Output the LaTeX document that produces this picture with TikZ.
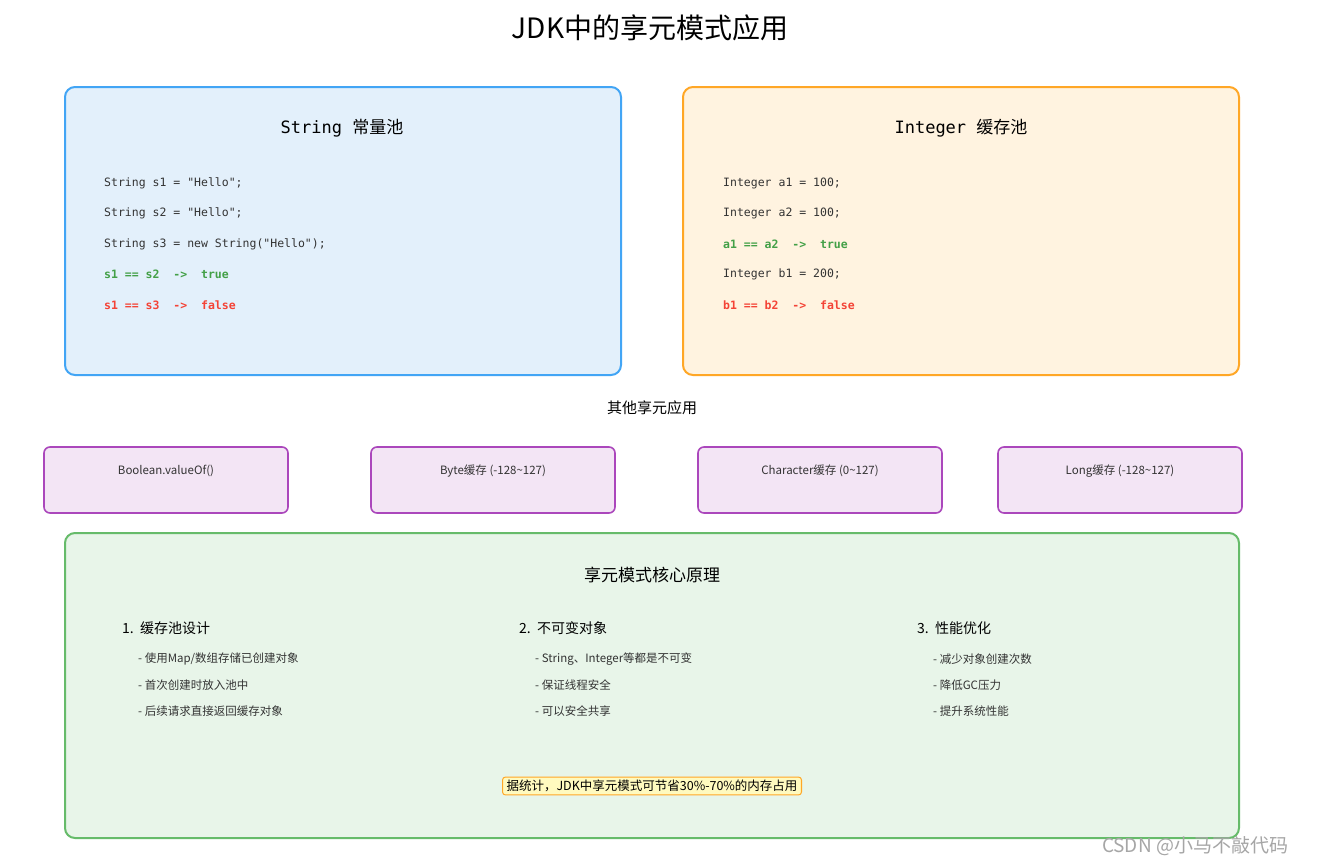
\documentclass[tikz,border=0pt]{standalone}
\usepackage{fontspec}
\setmainfont{Noto Sans CJK SC}
\newfontfamily\codef{DejaVu Sans Mono}
\definecolor{bluef}{HTML}{E3F0FB}\definecolor{blued}{HTML}{42A5F5}
\definecolor{orf}{HTML}{FFF3E0}\definecolor{ord}{HTML}{FFA726}
\definecolor{puf}{HTML}{F3E5F5}\definecolor{pud}{HTML}{AB47BC}
\definecolor{grf}{HTML}{E8F5E9}\definecolor{grd}{HTML}{66BB6A}
\definecolor{okc}{HTML}{43A047}\definecolor{badc}{HTML}{F44336}
\definecolor{txt}{HTML}{333333}
\begin{document}
\begin{tikzpicture}[x=1pt,y=-1pt,
  panel/.style={rounded corners=10pt,line width=2pt},
  code/.style={anchor=west,font=\codef\fontsize{11.5}{13}\selectfont,text=txt,inner sep=0},
  small/.style={rounded corners=6pt,line width=1.6pt,draw=pud,fill=puf},
  st/.style={font=\fontsize{11.5}{13}\selectfont,text=txt},
  bl/.style={anchor=west,font=\fontsize{11.5}{13}\selectfont,text=txt,inner sep=0},
  hd/.style={anchor=west,font=\fontsize{14}{16}\selectfont,text=black,inner sep=0}]
\useasboundingbox (0,0) rectangle (1324,867);
\fill[white] (0,0) rectangle (1324,867);
\node (title) at (650,28) {\fontsize{28}{32}\selectfont JDK中的享元模式应用};
% String pool
\draw[panel,draw=blued,fill=bluef] (65,87) rectangle (621,375);
\node (sh) at (342,128) {\fontsize{17}{20}\selectfont\codef String \rmfamily 常量池};
\node[code] (s1) at (104,183) {String s1 = "Hello";};
\node[code] (s2) at (104,213) {String s2 = "Hello";};
\node[code] (s3) at (104,244) {String s3 = new String("Hello");};
\node[code,text=okc,font=\codef\bfseries\fontsize{11.5}{13}\selectfont] (s4) at (104,274) {s1 == s2\ \ ->\ \ true};
\node[code,text=badc,font=\codef\bfseries\fontsize{11.5}{13}\selectfont] (s5) at (104,305) {s1 == s3\ \ ->\ \ false};
% Integer cache
\draw[panel,draw=ord,fill=orf] (683,87) rectangle (1239,375);
\node (ih) at (961,128) {\fontsize{17}{20}\selectfont\codef Integer \rmfamily 缓存池};
\node[code] (i1) at (723,183) {Integer a1 = 100;};
\node[code] (i2) at (723,213) {Integer a2 = 100;};
\node[code,text=okc,font=\codef\bfseries\fontsize{11.5}{13}\selectfont] (i3) at (723,244) {a1 == a2\ \ ->\ \ true};
\node[code] (i4) at (723,274) {Integer b1 = 200;};
\node[code,text=badc,font=\codef\bfseries\fontsize{11.5}{13}\selectfont] (i5) at (723,305) {b1 == b2\ \ ->\ \ false};
% others
\node (oh) at (652,408) {\fontsize{15}{17}\selectfont 其他享元应用};
\draw[small] (44,447) rectangle (288,513); \node[st] (o1) at (166,471) {Boolean.valueOf()};
\draw[small] (371,447) rectangle (615,513); \node[st] (o2) at (493,471) {Byte缓存 (-128\textasciitilde127)};
\draw[small] (698,447) rectangle (942,513); \node[st] (o3) at (820,471) {Character缓存 (0\textasciitilde127)};
\draw[small] (998,447) rectangle (1242,513); \node[st] (o4) at (1120,471) {Long缓存 (-128\textasciitilde127)};
% principles
\draw[panel,draw=grd,fill=grf] (65,533) rectangle (1239,838);
\node (ph) at (652,575) {\fontsize{17}{20}\selectfont 享元模式核心原理};
\node[hd] (c1) at (122,628) {1.\ \ 缓存池设计};
\node[bl] at (138,659) {- 使用Map/数组存储已创建对象};
\node[bl] at (138,685) {- 首次创建时放入池中};
\node[bl] at (138,711) {- 后续请求直接返回缓存对象};
\node[hd] (c2) at (519,628) {2.\ \ 不可变对象};
\node[bl] at (535,659) {- String、Integer等都是不可变};
\node[bl] at (535,685) {- 保证线程安全};
\node[bl] at (535,711) {- 可以安全共享};
\node[hd] (c3) at (917,628) {3.\ \ 性能优化};
\node[bl] at (933,659) {- 减少对象创建次数};
\node[bl] at (933,685) {- 降低GC压力};
\node[bl] at (933,711) {- 提升系统性能};
\node[draw=ord,fill=orange!15!yellow!25,rounded corners=3pt,line width=1pt,inner xsep=4pt,inner ysep=3pt,font=\fontsize{12.5}{14}\selectfont] (note) at (652,786) {据统计，JDK中享元模式可节省30\%-70\%的内存占用};
\node[text=black!35,font=\fontsize{19}{22}\selectfont] (wm) at (1195,846) {CSDN @小马不敲代码};
\end{tikzpicture}
\end{document}
